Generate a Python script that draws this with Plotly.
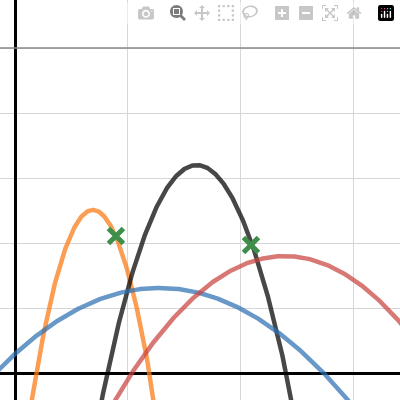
import numpy as np
import plotly.graph_objects as go

# parabolas y = k - a*(x-h)^2
curve_names = ["orange", "black", "blue", "red"]
vertex_x = [0.69, 1.61, 1.28, 2.39]
vertex_y = [2.51, 3.20, 1.31, 1.80]
curvature = [10.0, 5.1, 0.62, 0.98]
curve_colors = ["rgba(250,126,25,0.75)", "rgba(0,0,0,0.72)",
                "rgba(45,112,179,0.72)", "rgba(199,68,64,0.72)"]

point_x = [0.894, 2.09]
point_y = [2.11, 1.97]

xs = np.linspace(-0.2, 3.5, 600)

fig = go.Figure()
for name, h, k, a, c in zip(curve_names, vertex_x, vertex_y, curvature, curve_colors):
    fig.add_trace(go.Scatter(x=xs, y=k - a * (xs - h) ** 2, mode="lines",
                             line=dict(color=c, width=4.5), name=name,
                             hoverinfo="skip"))

fig.add_trace(go.Scatter(x=point_x, y=point_y, mode="markers",
                         marker=dict(symbol="x-thin", size=15,
                                     line=dict(color="#3f8f4b", width=5)),
                         hoverinfo="skip"))

fig.add_hline(y=5, line=dict(color="#888888", width=1.5))

axis_style = dict(showticklabels=False, showgrid=True, gridcolor="#d6d6d6",
                  gridwidth=1.2, zeroline=True, zerolinecolor="black",
                  zerolinewidth=2.5, dtick=1, ticks="")
fig.update_xaxes(range=[-0.133, 3.41], **axis_style)
fig.update_yaxes(range=[-0.415, 5.74], **axis_style)

fig.update_layout(width=400, height=400, showlegend=False,
                  margin=dict(l=0, r=0, t=0, b=0),
                  plot_bgcolor="white", paper_bgcolor="white")

fig.write_html("out.html", post_script="document.body.style.margin='0';")
